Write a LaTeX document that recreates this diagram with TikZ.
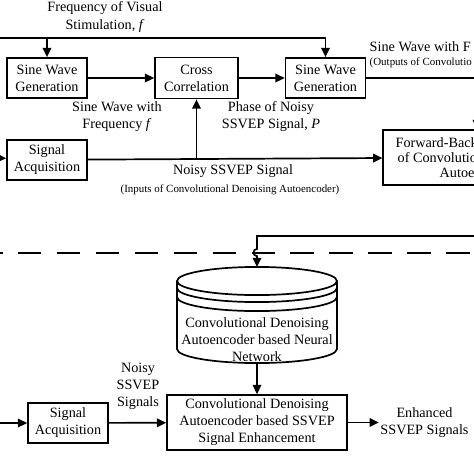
\documentclass[tikz,border=0pt]{standalone}
\usepackage{fontspec}
\setmainfont{Liberation Serif}
\usetikzlibrary{arrows.meta, positioning}

\begin{document}
\begin{tikzpicture}[
    x=0.704pt, y=-0.704pt,
    block/.style={
        draw,
        line width=1.2pt,
        minimum width=56.3pt,
        minimum height=28.2pt,
        inner sep=1pt,
        align=center
    },
    lbl/.style={align=center, inner sep=1pt},
    note/.style={inner sep=1pt, font=\fontsize{7.7}{9}\selectfont},
    wire/.style={line width=1.2pt},
    arrow/.style={-{Triangle[length=6.5pt, width=6pt]}, line width=1.2pt}
]
\useasboundingbox (0,0) rectangle (474,474);

% upper part: training
\node[block] (sine1) at (47,78) {Sine Wave\\Generation};
\node[block, minimum width=58.4pt, minimum height=28.9pt] (corr) at (196.5,78) {Cross\\Correlation};
\node[block] (sine2) at (325.5,78) {Sine Wave\\Generation};
\node[block, below=28.2pt of sine1] (acq1) {Signal\\Acquisition};
\node[block, minimum width=132pt, minimum height=38.7pt] (fbprop) at (477,157.5) {};
\node[lbl, anchor=west] (fbtxta) at (394,143) {Forward-Back};
\node[lbl, anchor=west] (fbtxtb) at (396,158) {of Convolutio};
\node[lbl, anchor=west] (fbtxtc) at (438,173) {Autoe};

\node[lbl] (freqvis) at (105,17) {Frequency of Visual\\Stimulation, \textit{f}};
\node[lbl] (sinefreq) at (117,117) {Sine Wave with\\Frequency \textit{f}};
\node[lbl] (phase) at (271,117) {Phase of Noisy\\SSVEP Signal, \textit{P}};
\node[lbl] (noisysig) at (233,171) {Noisy SSVEP Signal};
\node[note] (inputs) at (230,190) {(Inputs of Convolutional Denoising Autoencoder)};
\node[lbl, anchor=west] (sinewith) at (368,47) {Sine Wave with F};
\node[note, anchor=west] (outputs) at (368,63) {(Outputs of Convolutio};

\coordinate (topin) at (-3,38);
\coordinate (in1) at (-3,158);

\draw[arrow] (topin) -| (sine2.north);
\draw[arrow] (sine1.north |- topin) -- (sine1.north);
\draw[arrow] (sine1) -- (corr);
\draw[arrow] (corr) -- (sine2);
\draw[arrow] (sine2.east) -| (fbprop.north);
\draw[arrow] (in1) -- (acq1);
\draw[arrow] (acq1) -- (fbprop);
\draw[arrow] (acq1.east -| corr.south) -- (corr.south);

% separator
\coordinate (dashl) at (0,253);
\coordinate (dashr) at (476,253);
\draw[wire, dash pattern=on 16.5pt off 10.9pt, dash phase=14.7pt] (dashl) -- (dashr);

% lower part: enhancement
\coordinate (cyltop) at (257,267);
\coordinate (cylbot) at (257,363);
\draw[wire] (257,281) ellipse[x radius=56.3pt, y radius=9.9pt];
\draw[wire] (177,281) -- (177,349)
    arc[start angle=180, end angle=360, x radius=56.3pt, y radius=9.9pt] -- (337,281);
\draw[wire] (177,288) arc[start angle=180, end angle=360, x radius=56.3pt, y radius=9.9pt];
\draw[wire] (177,297) arc[start angle=180, end angle=360, x radius=56.3pt, y radius=9.9pt];
\node[lbl] (cylnet) at (257,340) {Convolutional Denoising\\Autoencoder based Neural\\Network};

\node[block, minimum width=126.7pt, minimum height=38.7pt] (enh) at (257,422.5) {Convolutional Denoising\\Autoencoder based SSVEP\\Signal Enhancement};
\node[block] (acq2) at (68,423) {Signal\\Acquisition};
\node[lbl] (noisysigs) at (138,386) {Noisy\\SSVEP\\Signals};
\node[lbl] (enhout) at (424.5,422.5) {Enhanced\\SSVEP Signals};

\coordinate (in2) at (-3,423);
\coordinate (feedin) at (490,236);
\coordinate (hop) at (257,249);

\draw[arrow] (feedin) -| (hop) arc[start angle=90, end angle=270, radius=2.5pt] -- (cyltop);
\draw[arrow] (cylbot) -- (enh.north);
\draw[arrow] (in2) -- (acq2);
\draw[arrow] (acq2) -- (enh);
\draw[arrow] (enh) -- (enhout);
\end{tikzpicture}
\end{document}
